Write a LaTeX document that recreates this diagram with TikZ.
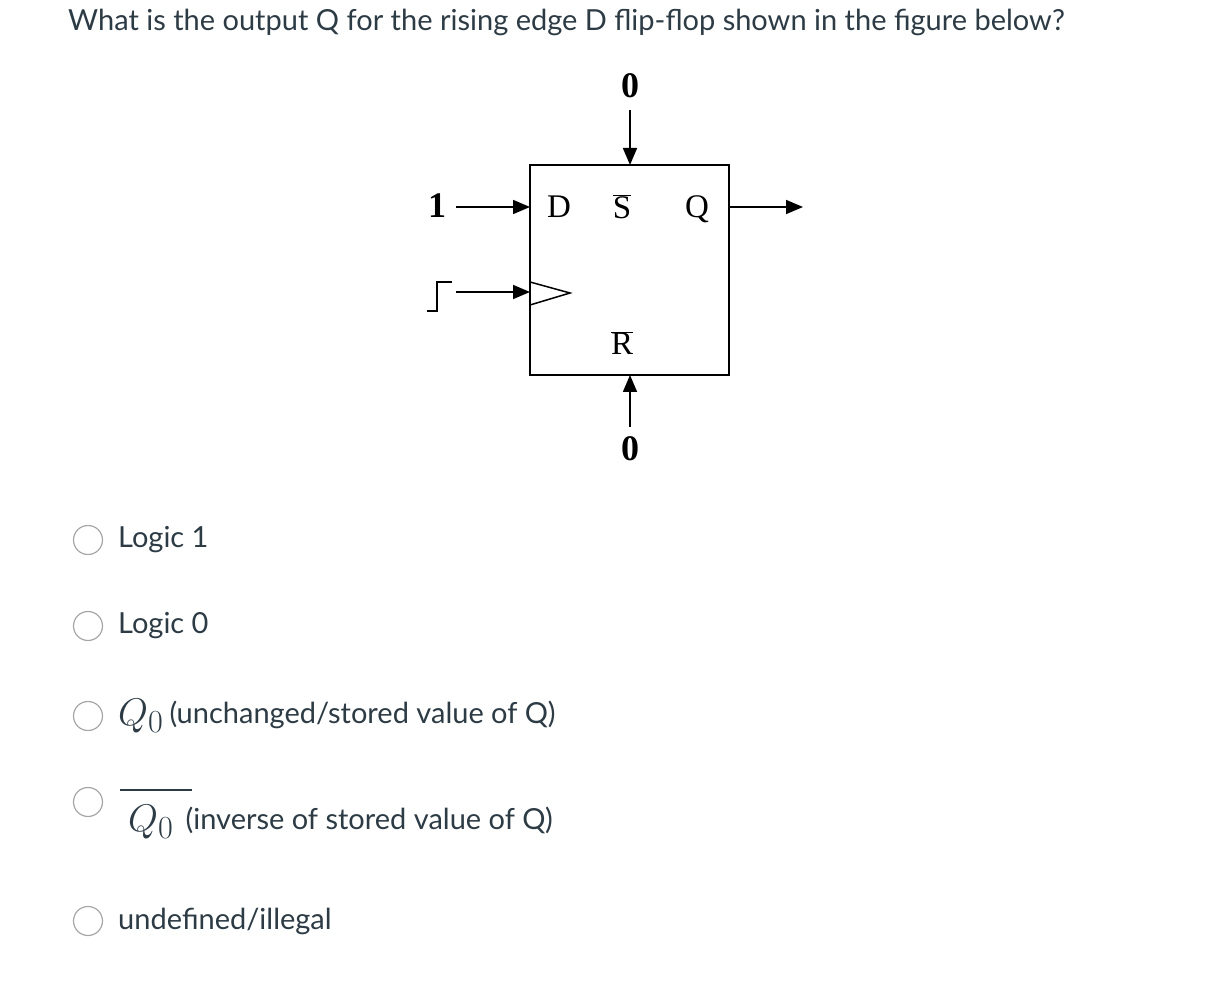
\documentclass[tikz,border=0pt]{standalone}
\usepackage{fontspec}
\setmainfont{Lato}
\newfontfamily\tnr{Liberation Serif}
\usetikzlibrary{arrows.meta}
\definecolor{txt}{HTML}{2D3B45}
\newcommand{\bigQ}{\raisebox{-2pt}{\scalebox{1.55}{$Q_0$}}}
\begin{document}
\begin{tikzpicture}[x=1pt,y=-1pt,
  q/.style={font=\fontsize{29}{33}\selectfont,text=txt,anchor=west,inner sep=0},
  radio/.style={draw=gray!70,line width=1.2pt,circle,minimum size=29,inner sep=0},
  lbl/.style={font=\tnr\fontsize{33}{36}\selectfont,inner sep=0},
  big/.style={font=\tnr\bfseries\fontsize{36}{40}\selectfont,inner sep=0},
  wire/.style={line width=1.6pt,-{Triangle[length=17pt,width=14pt]}}]
\useasboundingbox (0,0) rectangle (1227,984);
\node[q] (title) at (68,22) {What is the output Q for the rising edge D flip-flop shown in the figure below?};
% flip-flop
\node[draw,line width=1.8pt,minimum width=199,minimum height=210,inner sep=0] (ff) at (629.5,270) {};
\node[lbl] (dl) at (559,207) {D};
\node[lbl] (sl) at (622,207) {$\overline{\mbox{S}}$};
\node[lbl] (ql) at (697,209) {Q};
\node[lbl] (rl) at (622,343) {$\overline{\mbox{R}}$};
\node[big] (one) at (437,206) {1};
\node[big] (s0) at (630,86) {0};
\node[big] (r0) at (630,449) {0};
\coordinate (din) at (530,207);
\coordinate (cin) at (530,292);
\coordinate (sin) at (630,165);
\coordinate (rin) at (630,375);
\coordinate (qo) at (729,207);
\coordinate (qe) at (803,207);
\draw[wire] (456,207) -- (din);
\draw[wire] (456,292) -- (cin);
\draw[wire] (630,110) -- (sin);
\draw[wire] (630,427) -- (rin);
\draw[wire] (qo) -- (qe);
\draw[line width=1.5pt] (530,282) -- (570,293) -- (530,305);
\draw[line width=2.5pt] (427,311) -- (437,311) -- (437,282) -- (452,282);
% options
\node[radio] (r1) at (88,540) {};
\node[q] (o1) at (118,540) {Logic 1};
\node[radio] (r2) at (88,626) {};
\node[q] (o2) at (118,626) {Logic 0};
\node[radio] (r3) at (88,716) {};
\node[q] (o3) at (118,716) {\bigQ\hspace{6pt}(unchanged/stored value of Q)};
\node[radio] (r4) at (88,802) {};
\draw[line width=1.3pt,txt] (120,790) -- (192,790);
\node[q] (o4) at (128,822) {\bigQ\hspace{12pt}(inverse of stored value of Q)};
\node[radio] (r5) at (88,921) {};
\node[q] (o5) at (118,921) {undefined/illegal};
\end{tikzpicture}
\end{document}
